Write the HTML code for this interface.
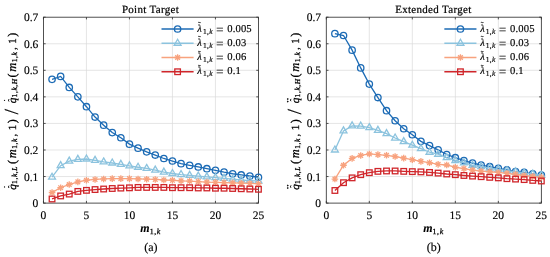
<!DOCTYPE html>
<html><head><meta charset="utf-8"><style>
html,body{margin:0;padding:0;background:#fff;width:550px;height:257px;overflow:hidden}
svg{display:block}

text{font-family:"Liberation Serif", "Times New Roman", serif;fill:#000;stroke:#000;stroke-width:0.15px;text-rendering:geometricPrecision}
.it{font-style:italic}
.tk{font-size:11.5px}
.pl{font-size:12px}
.ttl{font-size:11px;letter-spacing:0.3px;stroke-width:0.2px}
.xl{font-size:12px;stroke-width:0}
.bi{font-weight:bold;font-style:italic;stroke-width:0.1px}
.xs{font-size:7.8px;letter-spacing:0.6px;stroke-width:0.25px}
.lg{font-size:10.6px}
.lgv{font-size:10.6px;letter-spacing:0.15px}
.lgt{font-size:9px}
.ls{font-size:7.5px;letter-spacing:0.25px}
.leq{font-size:13.5px;stroke-width:0}
.yl{font-size:11px;stroke-width:0.3px}
.ys{font-size:7.5px;letter-spacing:0.6px}
.acc{font-size:7px}
.sl{font-size:20px;stroke-width:0.1px}
.yp{font-size:12px}
.ym{font-size:12.5px}
.acc2{font-size:9px}
.acc3{font-size:12px}
</style></head><body><div id="w">
<svg width="550" height="257" viewBox="0 0 550 257">
<rect width="550" height="257" fill="#fff"/>
<path d="M86.45 17.20V203.10M129.45 17.20V203.10M172.45 17.20V203.10M215.45 17.20V203.10M43.45 176.54H258.45M43.45 149.99H258.45M43.45 123.43H258.45M43.45 96.87H258.45M43.45 70.31H258.45M43.45 43.76H258.45" stroke="#dadada" stroke-width="0.7" fill="none"/>
<path d="M43.45 203.10v-2.2M43.45 17.20v2.2M86.45 203.10v-2.2M86.45 17.20v2.2M129.45 203.10v-2.2M129.45 17.20v2.2M172.45 203.10v-2.2M172.45 17.20v2.2M215.45 203.10v-2.2M215.45 17.20v2.2M258.45 203.10v-2.2M258.45 17.20v2.2M43.45 203.10h2.2M258.45 203.10h-2.2M43.45 176.54h2.2M258.45 176.54h-2.2M43.45 149.99h2.2M258.45 149.99h-2.2M43.45 123.43h2.2M258.45 123.43h-2.2M43.45 96.87h2.2M258.45 96.87h-2.2M43.45 70.31h2.2M258.45 70.31h-2.2M43.45 43.76h2.2M258.45 43.76h-2.2M43.45 17.20h2.2M258.45 17.20h-2.2" stroke="#262626" stroke-width="0.8" fill="none"/>
<rect x="43.45" y="17.20" width="215.00" height="185.90" fill="none" stroke="#333" stroke-width="0.85"/>
<g><path d="M52.05 79.34L60.65 76.42L69.25 87.44L77.85 96.87L86.45 106.70L95.05 117.05L103.65 125.15L112.25 132.59L120.85 137.77L129.45 144.14L138.05 148.13L146.65 151.84L155.25 155.03L163.85 158.48L172.45 161.01L181.05 163.66L189.65 165.39L198.25 166.93L206.85 168.71L215.45 170.30L224.05 172.16L232.65 173.75L241.25 174.95L249.85 176.01L258.45 177.34" stroke="#1c6bb5" stroke-width="1.3" fill="none"/>
<circle cx="52.05" cy="79.34" r="3.2" fill="none" stroke="#1c6bb5" stroke-width="1.3"/>
<circle cx="60.65" cy="76.42" r="3.2" fill="none" stroke="#1c6bb5" stroke-width="1.3"/>
<circle cx="69.25" cy="87.44" r="3.2" fill="none" stroke="#1c6bb5" stroke-width="1.3"/>
<circle cx="77.85" cy="96.87" r="3.2" fill="none" stroke="#1c6bb5" stroke-width="1.3"/>
<circle cx="86.45" cy="106.70" r="3.2" fill="none" stroke="#1c6bb5" stroke-width="1.3"/>
<circle cx="95.05" cy="117.05" r="3.2" fill="none" stroke="#1c6bb5" stroke-width="1.3"/>
<circle cx="103.65" cy="125.15" r="3.2" fill="none" stroke="#1c6bb5" stroke-width="1.3"/>
<circle cx="112.25" cy="132.59" r="3.2" fill="none" stroke="#1c6bb5" stroke-width="1.3"/>
<circle cx="120.85" cy="137.77" r="3.2" fill="none" stroke="#1c6bb5" stroke-width="1.3"/>
<circle cx="129.45" cy="144.14" r="3.2" fill="none" stroke="#1c6bb5" stroke-width="1.3"/>
<circle cx="138.05" cy="148.13" r="3.2" fill="none" stroke="#1c6bb5" stroke-width="1.3"/>
<circle cx="146.65" cy="151.84" r="3.2" fill="none" stroke="#1c6bb5" stroke-width="1.3"/>
<circle cx="155.25" cy="155.03" r="3.2" fill="none" stroke="#1c6bb5" stroke-width="1.3"/>
<circle cx="163.85" cy="158.48" r="3.2" fill="none" stroke="#1c6bb5" stroke-width="1.3"/>
<circle cx="172.45" cy="161.01" r="3.2" fill="none" stroke="#1c6bb5" stroke-width="1.3"/>
<circle cx="181.05" cy="163.66" r="3.2" fill="none" stroke="#1c6bb5" stroke-width="1.3"/>
<circle cx="189.65" cy="165.39" r="3.2" fill="none" stroke="#1c6bb5" stroke-width="1.3"/>
<circle cx="198.25" cy="166.93" r="3.2" fill="none" stroke="#1c6bb5" stroke-width="1.3"/>
<circle cx="206.85" cy="168.71" r="3.2" fill="none" stroke="#1c6bb5" stroke-width="1.3"/>
<circle cx="215.45" cy="170.30" r="3.2" fill="none" stroke="#1c6bb5" stroke-width="1.3"/>
<circle cx="224.05" cy="172.16" r="3.2" fill="none" stroke="#1c6bb5" stroke-width="1.3"/>
<circle cx="232.65" cy="173.75" r="3.2" fill="none" stroke="#1c6bb5" stroke-width="1.3"/>
<circle cx="241.25" cy="174.95" r="3.2" fill="none" stroke="#1c6bb5" stroke-width="1.3"/>
<circle cx="249.85" cy="176.01" r="3.2" fill="none" stroke="#1c6bb5" stroke-width="1.3"/>
<circle cx="258.45" cy="177.34" r="3.2" fill="none" stroke="#1c6bb5" stroke-width="1.3"/>
</g>
<g><path d="M52.05 177.21L60.65 165.65L69.25 161.14L77.85 159.41L86.45 159.02L95.05 160.34L103.65 161.94L112.25 163.00L120.85 164.33L129.45 165.92L138.05 167.25L146.65 168.44L155.25 170.17L163.85 172.16L172.45 173.49L181.05 174.55L189.65 175.35L198.25 176.14L206.85 176.81L215.45 177.61L224.05 178.40L232.65 179.20L241.25 180.00L249.85 180.53L258.45 181.06" stroke="#8cc3de" stroke-width="1.3" fill="none"/>
<path d="M52.05 173.21L55.51 179.21L48.59 179.21Z" fill="none" stroke="#8cc3de" stroke-width="1.3"/>
<path d="M60.65 161.65L64.11 167.65L57.19 167.65Z" fill="none" stroke="#8cc3de" stroke-width="1.3"/>
<path d="M69.25 157.14L72.71 163.14L65.79 163.14Z" fill="none" stroke="#8cc3de" stroke-width="1.3"/>
<path d="M77.85 155.41L81.31 161.41L74.39 161.41Z" fill="none" stroke="#8cc3de" stroke-width="1.3"/>
<path d="M86.45 155.02L89.91 161.02L82.99 161.02Z" fill="none" stroke="#8cc3de" stroke-width="1.3"/>
<path d="M95.05 156.34L98.51 162.34L91.59 162.34Z" fill="none" stroke="#8cc3de" stroke-width="1.3"/>
<path d="M103.65 157.94L107.11 163.94L100.19 163.94Z" fill="none" stroke="#8cc3de" stroke-width="1.3"/>
<path d="M112.25 159.00L115.71 165.00L108.79 165.00Z" fill="none" stroke="#8cc3de" stroke-width="1.3"/>
<path d="M120.85 160.33L124.31 166.33L117.39 166.33Z" fill="none" stroke="#8cc3de" stroke-width="1.3"/>
<path d="M129.45 161.92L132.91 167.92L125.99 167.92Z" fill="none" stroke="#8cc3de" stroke-width="1.3"/>
<path d="M138.05 163.25L141.51 169.25L134.59 169.25Z" fill="none" stroke="#8cc3de" stroke-width="1.3"/>
<path d="M146.65 164.44L150.11 170.44L143.19 170.44Z" fill="none" stroke="#8cc3de" stroke-width="1.3"/>
<path d="M155.25 166.17L158.71 172.17L151.79 172.17Z" fill="none" stroke="#8cc3de" stroke-width="1.3"/>
<path d="M163.85 168.16L167.31 174.16L160.39 174.16Z" fill="none" stroke="#8cc3de" stroke-width="1.3"/>
<path d="M172.45 169.49L175.91 175.49L168.99 175.49Z" fill="none" stroke="#8cc3de" stroke-width="1.3"/>
<path d="M181.05 170.55L184.51 176.55L177.59 176.55Z" fill="none" stroke="#8cc3de" stroke-width="1.3"/>
<path d="M189.65 171.35L193.11 177.35L186.19 177.35Z" fill="none" stroke="#8cc3de" stroke-width="1.3"/>
<path d="M198.25 172.14L201.71 178.14L194.79 178.14Z" fill="none" stroke="#8cc3de" stroke-width="1.3"/>
<path d="M206.85 172.81L210.31 178.81L203.39 178.81Z" fill="none" stroke="#8cc3de" stroke-width="1.3"/>
<path d="M215.45 173.61L218.91 179.61L211.99 179.61Z" fill="none" stroke="#8cc3de" stroke-width="1.3"/>
<path d="M224.05 174.40L227.51 180.40L220.59 180.40Z" fill="none" stroke="#8cc3de" stroke-width="1.3"/>
<path d="M232.65 175.20L236.11 181.20L229.19 181.20Z" fill="none" stroke="#8cc3de" stroke-width="1.3"/>
<path d="M241.25 176.00L244.71 182.00L237.79 182.00Z" fill="none" stroke="#8cc3de" stroke-width="1.3"/>
<path d="M249.85 176.53L253.31 182.53L246.39 182.53Z" fill="none" stroke="#8cc3de" stroke-width="1.3"/>
<path d="M258.45 177.06L261.91 183.06L254.99 183.06Z" fill="none" stroke="#8cc3de" stroke-width="1.3"/>
</g>
<g><path d="M52.05 192.48L60.65 187.70L69.25 184.51L77.85 181.85L86.45 180.26L95.05 179.46L103.65 178.93L112.25 178.67L120.85 178.67L129.45 178.67L138.05 178.93L146.65 179.20L155.25 179.46L163.85 180.00L172.45 180.26L181.05 180.79L189.65 181.06L198.25 181.59L206.85 182.12L215.45 182.39L224.05 182.65L232.65 182.92L241.25 183.18L249.85 183.45L258.45 183.71" stroke="#f8a27e" stroke-width="1.3" fill="none"/>
<path d="M48.75 192.48H55.35M52.05 189.18V195.78M49.72 190.14L54.38 194.81M49.72 194.81L54.38 190.14" stroke="#f8a27e" stroke-width="1.3" fill="none"/>
<path d="M57.35 187.70H63.95M60.65 184.40V191.00M58.32 185.36L62.98 190.03M58.32 190.03L62.98 185.36" stroke="#f8a27e" stroke-width="1.3" fill="none"/>
<path d="M65.95 184.51H72.55M69.25 181.21V187.81M66.92 182.18L71.58 186.84M66.92 186.84L71.58 182.18" stroke="#f8a27e" stroke-width="1.3" fill="none"/>
<path d="M74.55 181.85H81.15M77.85 178.55V185.15M75.52 179.52L80.18 184.19M75.52 184.19L80.18 179.52" stroke="#f8a27e" stroke-width="1.3" fill="none"/>
<path d="M83.15 180.26H89.75M86.45 176.96V183.56M84.12 177.93L88.78 182.59M84.12 182.59L88.78 177.93" stroke="#f8a27e" stroke-width="1.3" fill="none"/>
<path d="M91.75 179.46H98.35M95.05 176.16V182.76M92.72 177.13L97.38 181.80M92.72 181.80L97.38 177.13" stroke="#f8a27e" stroke-width="1.3" fill="none"/>
<path d="M100.35 178.93H106.95M103.65 175.63V182.23M101.32 176.60L105.98 181.27M101.32 181.27L105.98 176.60" stroke="#f8a27e" stroke-width="1.3" fill="none"/>
<path d="M108.95 178.67H115.55M112.25 175.37V181.97M109.92 176.33L114.58 181.00M109.92 181.00L114.58 176.33" stroke="#f8a27e" stroke-width="1.3" fill="none"/>
<path d="M117.55 178.67H124.15M120.85 175.37V181.97M118.52 176.33L123.18 181.00M118.52 181.00L123.18 176.33" stroke="#f8a27e" stroke-width="1.3" fill="none"/>
<path d="M126.15 178.67H132.75M129.45 175.37V181.97M127.12 176.33L131.78 181.00M127.12 181.00L131.78 176.33" stroke="#f8a27e" stroke-width="1.3" fill="none"/>
<path d="M134.75 178.93H141.35M138.05 175.63V182.23M135.72 176.60L140.38 181.27M135.72 181.27L140.38 176.60" stroke="#f8a27e" stroke-width="1.3" fill="none"/>
<path d="M143.35 179.20H149.95M146.65 175.90V182.50M144.32 176.87L148.98 181.53M144.32 181.53L148.98 176.87" stroke="#f8a27e" stroke-width="1.3" fill="none"/>
<path d="M151.95 179.46H158.55M155.25 176.16V182.76M152.92 177.13L157.58 181.80M152.92 181.80L157.58 177.13" stroke="#f8a27e" stroke-width="1.3" fill="none"/>
<path d="M160.55 180.00H167.15M163.85 176.70V183.30M161.52 177.66L166.18 182.33M161.52 182.33L166.18 177.66" stroke="#f8a27e" stroke-width="1.3" fill="none"/>
<path d="M169.15 180.26H175.75M172.45 176.96V183.56M170.12 177.93L174.78 182.59M170.12 182.59L174.78 177.93" stroke="#f8a27e" stroke-width="1.3" fill="none"/>
<path d="M177.75 180.79H184.35M181.05 177.49V184.09M178.72 178.46L183.38 183.13M178.72 183.13L183.38 178.46" stroke="#f8a27e" stroke-width="1.3" fill="none"/>
<path d="M186.35 181.06H192.95M189.65 177.76V184.36M187.32 178.72L191.98 183.39M187.32 183.39L191.98 178.72" stroke="#f8a27e" stroke-width="1.3" fill="none"/>
<path d="M194.95 181.59H201.55M198.25 178.29V184.89M195.92 179.26L200.58 183.92M195.92 183.92L200.58 179.26" stroke="#f8a27e" stroke-width="1.3" fill="none"/>
<path d="M203.55 182.12H210.15M206.85 178.82V185.42M204.52 179.79L209.18 184.45M204.52 184.45L209.18 179.79" stroke="#f8a27e" stroke-width="1.3" fill="none"/>
<path d="M212.15 182.39H218.75M215.45 179.09V185.69M213.12 180.05L217.78 184.72M213.12 184.72L217.78 180.05" stroke="#f8a27e" stroke-width="1.3" fill="none"/>
<path d="M220.75 182.65H227.35M224.05 179.35V185.95M221.72 180.32L226.38 184.98M221.72 184.98L226.38 180.32" stroke="#f8a27e" stroke-width="1.3" fill="none"/>
<path d="M229.35 182.92H235.95M232.65 179.62V186.22M230.32 180.58L234.98 185.25M230.32 185.25L234.98 180.58" stroke="#f8a27e" stroke-width="1.3" fill="none"/>
<path d="M237.95 183.18H244.55M241.25 179.88V186.48M238.92 180.85L243.58 185.52M238.92 185.52L243.58 180.85" stroke="#f8a27e" stroke-width="1.3" fill="none"/>
<path d="M246.55 183.45H253.15M249.85 180.15V186.75M247.52 181.11L252.18 185.78M247.52 185.78L252.18 181.11" stroke="#f8a27e" stroke-width="1.3" fill="none"/>
<path d="M255.15 183.71H261.75M258.45 180.41V187.01M256.12 181.38L260.78 186.05M256.12 186.05L260.78 181.38" stroke="#f8a27e" stroke-width="1.3" fill="none"/>
</g>
<g><path d="M52.05 198.98L60.65 195.93L69.25 194.07L77.85 191.41L86.45 190.35L95.05 189.56L103.65 189.02L112.25 188.49L120.85 188.10L129.45 187.83L138.05 187.43L146.65 187.43L155.25 187.43L163.85 187.43L172.45 187.70L181.05 187.70L189.65 187.70L198.25 187.96L206.85 187.96L215.45 188.23L224.05 188.23L232.65 188.49L241.25 188.76L249.85 189.02L258.45 189.29" stroke="#d0262b" stroke-width="1.3" fill="none"/>
<rect x="49.25" y="196.18" width="5.60" height="5.60" fill="none" stroke="#d0262b" stroke-width="1.3"/>
<rect x="57.85" y="193.13" width="5.60" height="5.60" fill="none" stroke="#d0262b" stroke-width="1.3"/>
<rect x="66.45" y="191.27" width="5.60" height="5.60" fill="none" stroke="#d0262b" stroke-width="1.3"/>
<rect x="75.05" y="188.61" width="5.60" height="5.60" fill="none" stroke="#d0262b" stroke-width="1.3"/>
<rect x="83.65" y="187.55" width="5.60" height="5.60" fill="none" stroke="#d0262b" stroke-width="1.3"/>
<rect x="92.25" y="186.76" width="5.60" height="5.60" fill="none" stroke="#d0262b" stroke-width="1.3"/>
<rect x="100.85" y="186.22" width="5.60" height="5.60" fill="none" stroke="#d0262b" stroke-width="1.3"/>
<rect x="109.45" y="185.69" width="5.60" height="5.60" fill="none" stroke="#d0262b" stroke-width="1.3"/>
<rect x="118.05" y="185.30" width="5.60" height="5.60" fill="none" stroke="#d0262b" stroke-width="1.3"/>
<rect x="126.65" y="185.03" width="5.60" height="5.60" fill="none" stroke="#d0262b" stroke-width="1.3"/>
<rect x="135.25" y="184.63" width="5.60" height="5.60" fill="none" stroke="#d0262b" stroke-width="1.3"/>
<rect x="143.85" y="184.63" width="5.60" height="5.60" fill="none" stroke="#d0262b" stroke-width="1.3"/>
<rect x="152.45" y="184.63" width="5.60" height="5.60" fill="none" stroke="#d0262b" stroke-width="1.3"/>
<rect x="161.05" y="184.63" width="5.60" height="5.60" fill="none" stroke="#d0262b" stroke-width="1.3"/>
<rect x="169.65" y="184.90" width="5.60" height="5.60" fill="none" stroke="#d0262b" stroke-width="1.3"/>
<rect x="178.25" y="184.90" width="5.60" height="5.60" fill="none" stroke="#d0262b" stroke-width="1.3"/>
<rect x="186.85" y="184.90" width="5.60" height="5.60" fill="none" stroke="#d0262b" stroke-width="1.3"/>
<rect x="195.45" y="185.16" width="5.60" height="5.60" fill="none" stroke="#d0262b" stroke-width="1.3"/>
<rect x="204.05" y="185.16" width="5.60" height="5.60" fill="none" stroke="#d0262b" stroke-width="1.3"/>
<rect x="212.65" y="185.43" width="5.60" height="5.60" fill="none" stroke="#d0262b" stroke-width="1.3"/>
<rect x="221.25" y="185.43" width="5.60" height="5.60" fill="none" stroke="#d0262b" stroke-width="1.3"/>
<rect x="229.85" y="185.69" width="5.60" height="5.60" fill="none" stroke="#d0262b" stroke-width="1.3"/>
<rect x="238.45" y="185.96" width="5.60" height="5.60" fill="none" stroke="#d0262b" stroke-width="1.3"/>
<rect x="247.05" y="186.22" width="5.60" height="5.60" fill="none" stroke="#d0262b" stroke-width="1.3"/>
<rect x="255.65" y="186.49" width="5.60" height="5.60" fill="none" stroke="#d0262b" stroke-width="1.3"/>
</g>
<text x="38.25" y="207.10" text-anchor="end" class="tk">0</text>
<text x="38.25" y="180.54" text-anchor="end" class="tk">0.1</text>
<text x="38.25" y="153.99" text-anchor="end" class="tk">0.2</text>
<text x="38.25" y="127.43" text-anchor="end" class="tk">0.3</text>
<text x="38.25" y="100.87" text-anchor="end" class="tk">0.4</text>
<text x="38.25" y="74.31" text-anchor="end" class="tk">0.5</text>
<text x="38.25" y="47.76" text-anchor="end" class="tk">0.6</text>
<text x="38.25" y="21.20" text-anchor="end" class="tk">0.7</text>
<text x="43.45" y="219.00" text-anchor="middle" class="tk">0</text>
<text x="86.45" y="219.00" text-anchor="middle" class="tk">5</text>
<text x="129.45" y="219.00" text-anchor="middle" class="tk">10</text>
<text x="172.45" y="219.00" text-anchor="middle" class="tk">15</text>
<text x="215.45" y="219.00" text-anchor="middle" class="tk">20</text>
<text x="258.45" y="219.00" text-anchor="middle" class="tk">25</text>
<text x="150.45" y="12.7" text-anchor="middle" class="ttl">Point Target</text>
<text x="140.35" y="231.7" class="xl"><tspan class="bi">m</tspan><tspan class="xs" dy="2.4">1,<tspan font-style="italic">k</tspan></tspan></text>
<text x="150.95" y="251.3" text-anchor="middle" class="pl">(a)</text>
<path d="M369.31 17.20V203.10M412.32 17.20V203.10M455.33 17.20V203.10M498.34 17.20V203.10M326.30 176.54H541.35M326.30 149.99H541.35M326.30 123.43H541.35M326.30 96.87H541.35M326.30 70.31H541.35M326.30 43.76H541.35" stroke="#dadada" stroke-width="0.7" fill="none"/>
<path d="M326.30 203.10v-2.2M326.30 17.20v2.2M369.31 203.10v-2.2M369.31 17.20v2.2M412.32 203.10v-2.2M412.32 17.20v2.2M455.33 203.10v-2.2M455.33 17.20v2.2M498.34 203.10v-2.2M498.34 17.20v2.2M541.35 203.10v-2.2M541.35 17.20v2.2M326.30 203.10h2.2M541.35 203.10h-2.2M326.30 176.54h2.2M541.35 176.54h-2.2M326.30 149.99h2.2M541.35 149.99h-2.2M326.30 123.43h2.2M541.35 123.43h-2.2M326.30 96.87h2.2M541.35 96.87h-2.2M326.30 70.31h2.2M541.35 70.31h-2.2M326.30 43.76h2.2M541.35 43.76h-2.2M326.30 17.20h2.2M541.35 17.20h-2.2" stroke="#262626" stroke-width="0.8" fill="none"/>
<rect x="326.30" y="17.20" width="215.05" height="185.90" fill="none" stroke="#333" stroke-width="0.85"/>
<g><path d="M334.90 33.67L343.50 35.52L352.11 50.13L360.71 67.92L369.31 84.12L377.91 97.54L386.51 110.68L395.12 120.77L403.72 128.74L412.32 134.77L420.92 141.35L429.52 145.60L438.13 149.85L446.73 154.50L455.33 157.69L463.93 160.61L472.53 163.00L481.14 165.12L489.74 166.72L498.34 168.31L506.94 169.90L515.54 171.50L524.15 172.43L532.75 173.89L541.35 175.22" stroke="#1c6bb5" stroke-width="1.3" fill="none"/>
<circle cx="334.90" cy="33.67" r="3.2" fill="none" stroke="#1c6bb5" stroke-width="1.3"/>
<circle cx="343.50" cy="35.52" r="3.2" fill="none" stroke="#1c6bb5" stroke-width="1.3"/>
<circle cx="352.11" cy="50.13" r="3.2" fill="none" stroke="#1c6bb5" stroke-width="1.3"/>
<circle cx="360.71" cy="67.92" r="3.2" fill="none" stroke="#1c6bb5" stroke-width="1.3"/>
<circle cx="369.31" cy="84.12" r="3.2" fill="none" stroke="#1c6bb5" stroke-width="1.3"/>
<circle cx="377.91" cy="97.54" r="3.2" fill="none" stroke="#1c6bb5" stroke-width="1.3"/>
<circle cx="386.51" cy="110.68" r="3.2" fill="none" stroke="#1c6bb5" stroke-width="1.3"/>
<circle cx="395.12" cy="120.77" r="3.2" fill="none" stroke="#1c6bb5" stroke-width="1.3"/>
<circle cx="403.72" cy="128.74" r="3.2" fill="none" stroke="#1c6bb5" stroke-width="1.3"/>
<circle cx="412.32" cy="134.77" r="3.2" fill="none" stroke="#1c6bb5" stroke-width="1.3"/>
<circle cx="420.92" cy="141.35" r="3.2" fill="none" stroke="#1c6bb5" stroke-width="1.3"/>
<circle cx="429.52" cy="145.60" r="3.2" fill="none" stroke="#1c6bb5" stroke-width="1.3"/>
<circle cx="438.13" cy="149.85" r="3.2" fill="none" stroke="#1c6bb5" stroke-width="1.3"/>
<circle cx="446.73" cy="154.50" r="3.2" fill="none" stroke="#1c6bb5" stroke-width="1.3"/>
<circle cx="455.33" cy="157.69" r="3.2" fill="none" stroke="#1c6bb5" stroke-width="1.3"/>
<circle cx="463.93" cy="160.61" r="3.2" fill="none" stroke="#1c6bb5" stroke-width="1.3"/>
<circle cx="472.53" cy="163.00" r="3.2" fill="none" stroke="#1c6bb5" stroke-width="1.3"/>
<circle cx="481.14" cy="165.12" r="3.2" fill="none" stroke="#1c6bb5" stroke-width="1.3"/>
<circle cx="489.74" cy="166.72" r="3.2" fill="none" stroke="#1c6bb5" stroke-width="1.3"/>
<circle cx="498.34" cy="168.31" r="3.2" fill="none" stroke="#1c6bb5" stroke-width="1.3"/>
<circle cx="506.94" cy="169.90" r="3.2" fill="none" stroke="#1c6bb5" stroke-width="1.3"/>
<circle cx="515.54" cy="171.50" r="3.2" fill="none" stroke="#1c6bb5" stroke-width="1.3"/>
<circle cx="524.15" cy="172.43" r="3.2" fill="none" stroke="#1c6bb5" stroke-width="1.3"/>
<circle cx="532.75" cy="173.89" r="3.2" fill="none" stroke="#1c6bb5" stroke-width="1.3"/>
<circle cx="541.35" cy="175.22" r="3.2" fill="none" stroke="#1c6bb5" stroke-width="1.3"/>
</g>
<g><path d="M334.90 149.99L343.50 130.86L352.11 125.82L360.71 126.08L369.31 127.68L377.91 130.33L386.51 133.65L395.12 138.03L403.72 141.62L412.32 145.21L420.92 148.66L429.52 152.24L438.13 154.23L446.73 157.69L455.33 160.48L463.93 162.73L472.53 165.26L481.14 166.58L489.74 168.04L498.34 169.37L506.94 170.70L515.54 171.76L524.15 173.09L532.75 174.15L541.35 175.22" stroke="#8cc3de" stroke-width="1.3" fill="none"/>
<path d="M334.90 145.99L338.37 151.99L331.44 151.99Z" fill="none" stroke="#8cc3de" stroke-width="1.3"/>
<path d="M343.50 126.86L346.97 132.86L340.04 132.86Z" fill="none" stroke="#8cc3de" stroke-width="1.3"/>
<path d="M352.11 121.82L355.57 127.82L348.64 127.82Z" fill="none" stroke="#8cc3de" stroke-width="1.3"/>
<path d="M360.71 122.08L364.17 128.08L357.24 128.08Z" fill="none" stroke="#8cc3de" stroke-width="1.3"/>
<path d="M369.31 123.68L372.77 129.68L365.85 129.68Z" fill="none" stroke="#8cc3de" stroke-width="1.3"/>
<path d="M377.91 126.33L381.38 132.33L374.45 132.33Z" fill="none" stroke="#8cc3de" stroke-width="1.3"/>
<path d="M386.51 129.65L389.98 135.65L383.05 135.65Z" fill="none" stroke="#8cc3de" stroke-width="1.3"/>
<path d="M395.12 134.03L398.58 140.03L391.65 140.03Z" fill="none" stroke="#8cc3de" stroke-width="1.3"/>
<path d="M403.72 137.62L407.18 143.62L400.25 143.62Z" fill="none" stroke="#8cc3de" stroke-width="1.3"/>
<path d="M412.32 141.21L415.78 147.21L408.86 147.21Z" fill="none" stroke="#8cc3de" stroke-width="1.3"/>
<path d="M420.92 144.66L424.39 150.66L417.46 150.66Z" fill="none" stroke="#8cc3de" stroke-width="1.3"/>
<path d="M429.52 148.24L432.99 154.24L426.06 154.24Z" fill="none" stroke="#8cc3de" stroke-width="1.3"/>
<path d="M438.13 150.23L441.59 156.23L434.66 156.23Z" fill="none" stroke="#8cc3de" stroke-width="1.3"/>
<path d="M446.73 153.69L450.19 159.69L443.26 159.69Z" fill="none" stroke="#8cc3de" stroke-width="1.3"/>
<path d="M455.33 156.48L458.79 162.48L451.87 162.48Z" fill="none" stroke="#8cc3de" stroke-width="1.3"/>
<path d="M463.93 158.73L467.40 164.73L460.47 164.73Z" fill="none" stroke="#8cc3de" stroke-width="1.3"/>
<path d="M472.53 161.26L476.00 167.26L469.07 167.26Z" fill="none" stroke="#8cc3de" stroke-width="1.3"/>
<path d="M481.14 162.58L484.60 168.58L477.67 168.58Z" fill="none" stroke="#8cc3de" stroke-width="1.3"/>
<path d="M489.74 164.04L493.20 170.04L486.27 170.04Z" fill="none" stroke="#8cc3de" stroke-width="1.3"/>
<path d="M498.34 165.37L501.80 171.37L494.88 171.37Z" fill="none" stroke="#8cc3de" stroke-width="1.3"/>
<path d="M506.94 166.70L510.41 172.70L503.48 172.70Z" fill="none" stroke="#8cc3de" stroke-width="1.3"/>
<path d="M515.54 167.76L519.01 173.76L512.08 173.76Z" fill="none" stroke="#8cc3de" stroke-width="1.3"/>
<path d="M524.15 169.09L527.61 175.09L520.68 175.09Z" fill="none" stroke="#8cc3de" stroke-width="1.3"/>
<path d="M532.75 170.15L536.21 176.15L529.28 176.15Z" fill="none" stroke="#8cc3de" stroke-width="1.3"/>
<path d="M541.35 171.22L544.81 177.22L537.89 177.22Z" fill="none" stroke="#8cc3de" stroke-width="1.3"/>
</g>
<g><path d="M334.90 179.07L343.50 165.26L352.11 158.38L360.71 155.46L369.31 153.97L377.91 154.63L386.51 155.30L395.12 156.49L403.72 158.09L412.32 159.68L420.92 161.41L429.52 162.73L438.13 164.33L446.73 164.99L455.33 167.25L463.93 168.58L472.53 170.04L481.14 171.10L489.74 171.76L498.34 172.43L506.94 173.36L515.54 174.42L524.15 175.48L532.75 176.41L541.35 177.34" stroke="#f8a27e" stroke-width="1.3" fill="none"/>
<path d="M331.60 179.07H338.20M334.90 175.77V182.37M332.57 176.73L337.24 181.40M332.57 181.40L337.24 176.73" stroke="#f8a27e" stroke-width="1.3" fill="none"/>
<path d="M340.20 165.26H346.80M343.50 161.96V168.56M341.17 162.92L345.84 167.59M341.17 167.59L345.84 162.92" stroke="#f8a27e" stroke-width="1.3" fill="none"/>
<path d="M348.81 158.38H355.41M352.11 155.08V161.68M349.77 156.04L354.44 160.71M349.77 160.71L354.44 156.04" stroke="#f8a27e" stroke-width="1.3" fill="none"/>
<path d="M357.41 155.46H364.01M360.71 152.16V158.76M358.37 153.12L363.04 157.79M358.37 157.79L363.04 153.12" stroke="#f8a27e" stroke-width="1.3" fill="none"/>
<path d="M366.01 153.97H372.61M369.31 150.67V157.27M366.98 151.64L371.64 156.30M366.98 156.30L371.64 151.64" stroke="#f8a27e" stroke-width="1.3" fill="none"/>
<path d="M374.61 154.63H381.21M377.91 151.33V157.93M375.58 152.30L380.25 156.97M375.58 156.97L380.25 152.30" stroke="#f8a27e" stroke-width="1.3" fill="none"/>
<path d="M383.21 155.30H389.81M386.51 152.00V158.60M384.18 152.96L388.85 157.63M384.18 157.63L388.85 152.96" stroke="#f8a27e" stroke-width="1.3" fill="none"/>
<path d="M391.82 156.49H398.42M395.12 153.19V159.79M392.78 154.16L397.45 158.83M392.78 158.83L397.45 154.16" stroke="#f8a27e" stroke-width="1.3" fill="none"/>
<path d="M400.42 158.09H407.02M403.72 154.79V161.39M401.38 155.75L406.05 160.42M401.38 160.42L406.05 155.75" stroke="#f8a27e" stroke-width="1.3" fill="none"/>
<path d="M409.02 159.68H415.62M412.32 156.38V162.98M409.99 157.35L414.65 162.01M409.99 162.01L414.65 157.35" stroke="#f8a27e" stroke-width="1.3" fill="none"/>
<path d="M417.62 161.41H424.22M420.92 158.11V164.71M418.59 159.07L423.26 163.74M418.59 163.74L423.26 159.07" stroke="#f8a27e" stroke-width="1.3" fill="none"/>
<path d="M426.22 162.73H432.82M429.52 159.43V166.03M427.19 160.40L431.86 165.07M427.19 165.07L431.86 160.40" stroke="#f8a27e" stroke-width="1.3" fill="none"/>
<path d="M434.83 164.33H441.43M438.13 161.03V167.63M435.79 161.99L440.46 166.66M435.79 166.66L440.46 161.99" stroke="#f8a27e" stroke-width="1.3" fill="none"/>
<path d="M443.43 164.99H450.03M446.73 161.69V168.29M444.39 162.66L449.06 167.32M444.39 167.32L449.06 162.66" stroke="#f8a27e" stroke-width="1.3" fill="none"/>
<path d="M452.03 167.25H458.63M455.33 163.95V170.55M453.00 164.91L457.66 169.58M453.00 169.58L457.66 164.91" stroke="#f8a27e" stroke-width="1.3" fill="none"/>
<path d="M460.63 168.58H467.23M463.93 165.28V171.88M461.60 166.24L466.27 170.91M461.60 170.91L466.27 166.24" stroke="#f8a27e" stroke-width="1.3" fill="none"/>
<path d="M469.23 170.04H475.83M472.53 166.74V173.34M470.20 167.70L474.87 172.37M470.20 172.37L474.87 167.70" stroke="#f8a27e" stroke-width="1.3" fill="none"/>
<path d="M477.84 171.10H484.44M481.14 167.80V174.40M478.80 168.77L483.47 173.43M478.80 173.43L483.47 168.77" stroke="#f8a27e" stroke-width="1.3" fill="none"/>
<path d="M486.44 171.76H493.04M489.74 168.46V175.06M487.40 169.43L492.07 174.10M487.40 174.10L492.07 169.43" stroke="#f8a27e" stroke-width="1.3" fill="none"/>
<path d="M495.04 172.43H501.64M498.34 169.13V175.73M496.01 170.09L500.67 174.76M496.01 174.76L500.67 170.09" stroke="#f8a27e" stroke-width="1.3" fill="none"/>
<path d="M503.64 173.36H510.24M506.94 170.06V176.66M504.61 171.02L509.28 175.69M504.61 175.69L509.28 171.02" stroke="#f8a27e" stroke-width="1.3" fill="none"/>
<path d="M512.24 174.42H518.84M515.54 171.12V177.72M513.21 172.08L517.88 176.75M513.21 176.75L517.88 172.08" stroke="#f8a27e" stroke-width="1.3" fill="none"/>
<path d="M520.85 175.48H527.45M524.15 172.18V178.78M521.81 173.15L526.48 177.81M521.81 177.81L526.48 173.15" stroke="#f8a27e" stroke-width="1.3" fill="none"/>
<path d="M529.45 176.41H536.05M532.75 173.11V179.71M530.41 174.08L535.08 178.74M530.41 178.74L535.08 174.08" stroke="#f8a27e" stroke-width="1.3" fill="none"/>
<path d="M538.05 177.34H544.65M541.35 174.04V180.64M539.02 175.01L543.68 179.67M539.02 179.67L543.68 175.01" stroke="#f8a27e" stroke-width="1.3" fill="none"/>
</g>
<g><path d="M334.90 190.49L343.50 182.68L352.11 177.87L360.71 174.68L369.31 172.69L377.91 171.36L386.51 170.97L395.12 170.97L403.72 171.36L412.32 171.63L420.92 171.90L429.52 172.43L438.13 173.09L446.73 173.99L455.33 174.68L463.93 175.48L472.53 176.09L481.14 176.68L489.74 177.34L498.34 177.87L506.94 178.67L515.54 179.09L524.15 179.60L532.75 180.39L541.35 180.98" stroke="#d0262b" stroke-width="1.3" fill="none"/>
<rect x="332.10" y="187.69" width="5.60" height="5.60" fill="none" stroke="#d0262b" stroke-width="1.3"/>
<rect x="340.70" y="179.88" width="5.60" height="5.60" fill="none" stroke="#d0262b" stroke-width="1.3"/>
<rect x="349.31" y="175.07" width="5.60" height="5.60" fill="none" stroke="#d0262b" stroke-width="1.3"/>
<rect x="357.91" y="171.88" width="5.60" height="5.60" fill="none" stroke="#d0262b" stroke-width="1.3"/>
<rect x="366.51" y="169.89" width="5.60" height="5.60" fill="none" stroke="#d0262b" stroke-width="1.3"/>
<rect x="375.11" y="168.56" width="5.60" height="5.60" fill="none" stroke="#d0262b" stroke-width="1.3"/>
<rect x="383.71" y="168.17" width="5.60" height="5.60" fill="none" stroke="#d0262b" stroke-width="1.3"/>
<rect x="392.32" y="168.17" width="5.60" height="5.60" fill="none" stroke="#d0262b" stroke-width="1.3"/>
<rect x="400.92" y="168.56" width="5.60" height="5.60" fill="none" stroke="#d0262b" stroke-width="1.3"/>
<rect x="409.52" y="168.83" width="5.60" height="5.60" fill="none" stroke="#d0262b" stroke-width="1.3"/>
<rect x="418.12" y="169.10" width="5.60" height="5.60" fill="none" stroke="#d0262b" stroke-width="1.3"/>
<rect x="426.72" y="169.63" width="5.60" height="5.60" fill="none" stroke="#d0262b" stroke-width="1.3"/>
<rect x="435.33" y="170.29" width="5.60" height="5.60" fill="none" stroke="#d0262b" stroke-width="1.3"/>
<rect x="443.93" y="171.19" width="5.60" height="5.60" fill="none" stroke="#d0262b" stroke-width="1.3"/>
<rect x="452.53" y="171.88" width="5.60" height="5.60" fill="none" stroke="#d0262b" stroke-width="1.3"/>
<rect x="461.13" y="172.68" width="5.60" height="5.60" fill="none" stroke="#d0262b" stroke-width="1.3"/>
<rect x="469.73" y="173.29" width="5.60" height="5.60" fill="none" stroke="#d0262b" stroke-width="1.3"/>
<rect x="478.34" y="173.88" width="5.60" height="5.60" fill="none" stroke="#d0262b" stroke-width="1.3"/>
<rect x="486.94" y="174.54" width="5.60" height="5.60" fill="none" stroke="#d0262b" stroke-width="1.3"/>
<rect x="495.54" y="175.07" width="5.60" height="5.60" fill="none" stroke="#d0262b" stroke-width="1.3"/>
<rect x="504.14" y="175.87" width="5.60" height="5.60" fill="none" stroke="#d0262b" stroke-width="1.3"/>
<rect x="512.74" y="176.29" width="5.60" height="5.60" fill="none" stroke="#d0262b" stroke-width="1.3"/>
<rect x="521.35" y="176.80" width="5.60" height="5.60" fill="none" stroke="#d0262b" stroke-width="1.3"/>
<rect x="529.95" y="177.59" width="5.60" height="5.60" fill="none" stroke="#d0262b" stroke-width="1.3"/>
<rect x="538.55" y="178.18" width="5.60" height="5.60" fill="none" stroke="#d0262b" stroke-width="1.3"/>
</g>
<text x="321.10" y="207.10" text-anchor="end" class="tk">0</text>
<text x="321.10" y="180.54" text-anchor="end" class="tk">0.1</text>
<text x="321.10" y="153.99" text-anchor="end" class="tk">0.2</text>
<text x="321.10" y="127.43" text-anchor="end" class="tk">0.3</text>
<text x="321.10" y="100.87" text-anchor="end" class="tk">0.4</text>
<text x="321.10" y="74.31" text-anchor="end" class="tk">0.5</text>
<text x="321.10" y="47.76" text-anchor="end" class="tk">0.6</text>
<text x="321.10" y="21.20" text-anchor="end" class="tk">0.7</text>
<text x="326.30" y="219.00" text-anchor="middle" class="tk">0</text>
<text x="369.31" y="219.00" text-anchor="middle" class="tk">5</text>
<text x="412.32" y="219.00" text-anchor="middle" class="tk">10</text>
<text x="455.33" y="219.00" text-anchor="middle" class="tk">15</text>
<text x="498.34" y="219.00" text-anchor="middle" class="tk">20</text>
<text x="541.35" y="219.00" text-anchor="middle" class="tk">25</text>
<text x="433.33" y="12.7" text-anchor="middle" class="ttl">Extended Target</text>
<text x="423.23" y="231.7" class="xl"><tspan class="bi">m</tspan><tspan class="xs" dy="2.4">1,<tspan font-style="italic">k</tspan></tspan></text>
<text x="433.83" y="251.3" text-anchor="middle" class="pl">(b)</text>
<path d="M161.50 29.00H193.60" stroke="#1c6bb5" stroke-width="1.3"/>
<circle cx="177.60" cy="29.00" r="3.2" fill="none" stroke="#1c6bb5" stroke-width="1.3"/>
<text x="197.30" y="31.60" class="lg"><tspan class="it">λ</tspan></text>
<text x="197.90" y="28.10" class="lgt">˜</text>
<text x="203.00" y="33.60" class="ls">1,<tspan class="it">k</tspan></text>
<text x="216.00" y="33.50" class="leq">=</text>
<text x="227.20" y="31.70" class="lgv">0.005</text>
<path d="M161.50 43.25H193.60" stroke="#8cc3de" stroke-width="1.3"/>
<path d="M177.60 39.25L181.06 45.25L174.14 45.25Z" fill="none" stroke="#8cc3de" stroke-width="1.3"/>
<text x="197.30" y="45.85" class="lg"><tspan class="it">λ</tspan></text>
<text x="197.90" y="42.35" class="lgt">˜</text>
<text x="203.00" y="47.85" class="ls">1,<tspan class="it">k</tspan></text>
<text x="216.00" y="47.75" class="leq">=</text>
<text x="227.20" y="45.95" class="lgv">0.03</text>
<path d="M161.50 57.50H193.60" stroke="#f8a27e" stroke-width="1.3"/>
<path d="M174.30 57.50H180.90M177.60 54.20V60.80M175.27 55.17L179.93 59.83M175.27 59.83L179.93 55.17" stroke="#f8a27e" stroke-width="1.3" fill="none"/>
<text x="197.30" y="60.10" class="lg"><tspan class="it">λ</tspan></text>
<text x="197.90" y="56.60" class="lgt">˜</text>
<text x="203.00" y="62.10" class="ls">1,<tspan class="it">k</tspan></text>
<text x="216.00" y="62.00" class="leq">=</text>
<text x="227.20" y="60.20" class="lgv">0.06</text>
<path d="M161.50 71.75H193.60" stroke="#d0262b" stroke-width="1.3"/>
<rect x="174.80" y="68.95" width="5.60" height="5.60" fill="none" stroke="#d0262b" stroke-width="1.3"/>
<text x="197.30" y="74.35" class="lg"><tspan class="it">λ</tspan></text>
<text x="197.90" y="70.85" class="lgt">˜</text>
<text x="203.00" y="76.35" class="ls">1,<tspan class="it">k</tspan></text>
<text x="216.00" y="76.25" class="leq">=</text>
<text x="227.20" y="74.45" class="lgv">0.1</text>
<path d="M444.35 29.00H476.45" stroke="#1c6bb5" stroke-width="1.3"/>
<circle cx="460.45" cy="29.00" r="3.2" fill="none" stroke="#1c6bb5" stroke-width="1.3"/>
<text x="480.15" y="31.60" class="lg"><tspan class="it">λ</tspan></text>
<text x="480.75" y="28.10" class="lgt">˜</text>
<text x="485.85" y="33.60" class="ls">1,<tspan class="it">k</tspan></text>
<text x="498.85" y="33.50" class="leq">=</text>
<text x="510.05" y="31.70" class="lgv">0.005</text>
<path d="M444.35 43.25H476.45" stroke="#8cc3de" stroke-width="1.3"/>
<path d="M460.45 39.25L463.91 45.25L456.99 45.25Z" fill="none" stroke="#8cc3de" stroke-width="1.3"/>
<text x="480.15" y="45.85" class="lg"><tspan class="it">λ</tspan></text>
<text x="480.75" y="42.35" class="lgt">˜</text>
<text x="485.85" y="47.85" class="ls">1,<tspan class="it">k</tspan></text>
<text x="498.85" y="47.75" class="leq">=</text>
<text x="510.05" y="45.95" class="lgv">0.03</text>
<path d="M444.35 57.50H476.45" stroke="#f8a27e" stroke-width="1.3"/>
<path d="M457.15 57.50H463.75M460.45 54.20V60.80M458.12 55.17L462.78 59.83M458.12 59.83L462.78 55.17" stroke="#f8a27e" stroke-width="1.3" fill="none"/>
<text x="480.15" y="60.10" class="lg"><tspan class="it">λ</tspan></text>
<text x="480.75" y="56.60" class="lgt">˜</text>
<text x="485.85" y="62.10" class="ls">1,<tspan class="it">k</tspan></text>
<text x="498.85" y="62.00" class="leq">=</text>
<text x="510.05" y="60.20" class="lgv">0.06</text>
<path d="M444.35 71.75H476.45" stroke="#d0262b" stroke-width="1.3"/>
<rect x="457.65" y="68.95" width="5.60" height="5.60" fill="none" stroke="#d0262b" stroke-width="1.3"/>
<text x="480.15" y="74.35" class="lg"><tspan class="it">λ</tspan></text>
<text x="480.75" y="70.85" class="lgt">˜</text>
<text x="485.85" y="76.35" class="ls">1,<tspan class="it">k</tspan></text>
<text x="498.85" y="76.25" class="leq">=</text>
<text x="510.05" y="74.45" class="lgv">0.1</text>
<g transform="translate(15.70 189.40) rotate(-90)"><text class="yl"><tspan x="-0.36" y="0.00" class="it">q</tspan><tspan x="1.43" y="-3.20" class="acc">ˆ</tspan><tspan x="1.00" y="-5.90" class="acc2">˙</tspan><tspan x="5.50" y="1.6" class="ys">1,<tspan class="it">k</tspan>,<tspan class="it">L</tspan></tspan><tspan x="25.50" y="0.00" class="yp">(</tspan><tspan x="31.05" y="0.00" class="it ym">m</tspan><tspan x="40.60" y="1.6" class="ys">1,<tspan class="it">k</tspan></tspan><tspan x="53.00" y="0.00">,</tspan><tspan x="59.20" y="0.00">1</tspan><tspan x="66.20" y="0.00" class="yp">)</tspan><tspan x="74.8" y="2.3" class="sl">/</tspan><tspan x="86.14" y="0.00" class="it">q</tspan><tspan x="87.93" y="-3.20" class="acc">ˆ</tspan><tspan x="87.50" y="-5.90" class="acc2">˙</tspan><tspan x="92.00" y="1.6" class="ys">1,<tspan class="it">k</tspan>,<tspan class="it">H</tspan></tspan><tspan x="112.00" y="0.00" class="yp">(</tspan><tspan x="117.55" y="0.00" class="it ym">m</tspan><tspan x="127.10" y="1.6" class="ys">1,<tspan class="it">k</tspan></tspan><tspan x="139.50" y="0.00">,</tspan><tspan x="145.70" y="0.00">1</tspan><tspan x="152.70" y="0.00" class="yp">)</tspan></text></g>
<g transform="translate(298.55 189.40) rotate(-90)"><text class="yl"><tspan x="-0.36" y="0.00" class="it">q</tspan><tspan x="1.68" y="-3.50" class="acc">ˆ</tspan><tspan x="-0.62" y="-3.50" class="acc3">˙</tspan><tspan x="1.98" y="-3.50" class="acc3">˙</tspan><tspan x="5.50" y="1.6" class="ys">1,<tspan class="it">k</tspan>,<tspan class="it">L</tspan></tspan><tspan x="25.50" y="0.00" class="yp">(</tspan><tspan x="31.05" y="0.00" class="it ym">m</tspan><tspan x="40.60" y="1.6" class="ys">1,<tspan class="it">k</tspan></tspan><tspan x="53.00" y="0.00">,</tspan><tspan x="59.20" y="0.00">1</tspan><tspan x="66.20" y="0.00" class="yp">)</tspan><tspan x="74.8" y="2.3" class="sl">/</tspan><tspan x="86.14" y="0.00" class="it">q</tspan><tspan x="88.18" y="-3.50" class="acc">ˆ</tspan><tspan x="85.88" y="-3.50" class="acc3">˙</tspan><tspan x="88.48" y="-3.50" class="acc3">˙</tspan><tspan x="92.00" y="1.6" class="ys">1,<tspan class="it">k</tspan>,<tspan class="it">H</tspan></tspan><tspan x="112.00" y="0.00" class="yp">(</tspan><tspan x="117.55" y="0.00" class="it ym">m</tspan><tspan x="127.10" y="1.6" class="ys">1,<tspan class="it">k</tspan></tspan><tspan x="139.50" y="0.00">,</tspan><tspan x="145.70" y="0.00">1</tspan><tspan x="152.70" y="0.00" class="yp">)</tspan></text></g>
</svg>
</div></body></html>
